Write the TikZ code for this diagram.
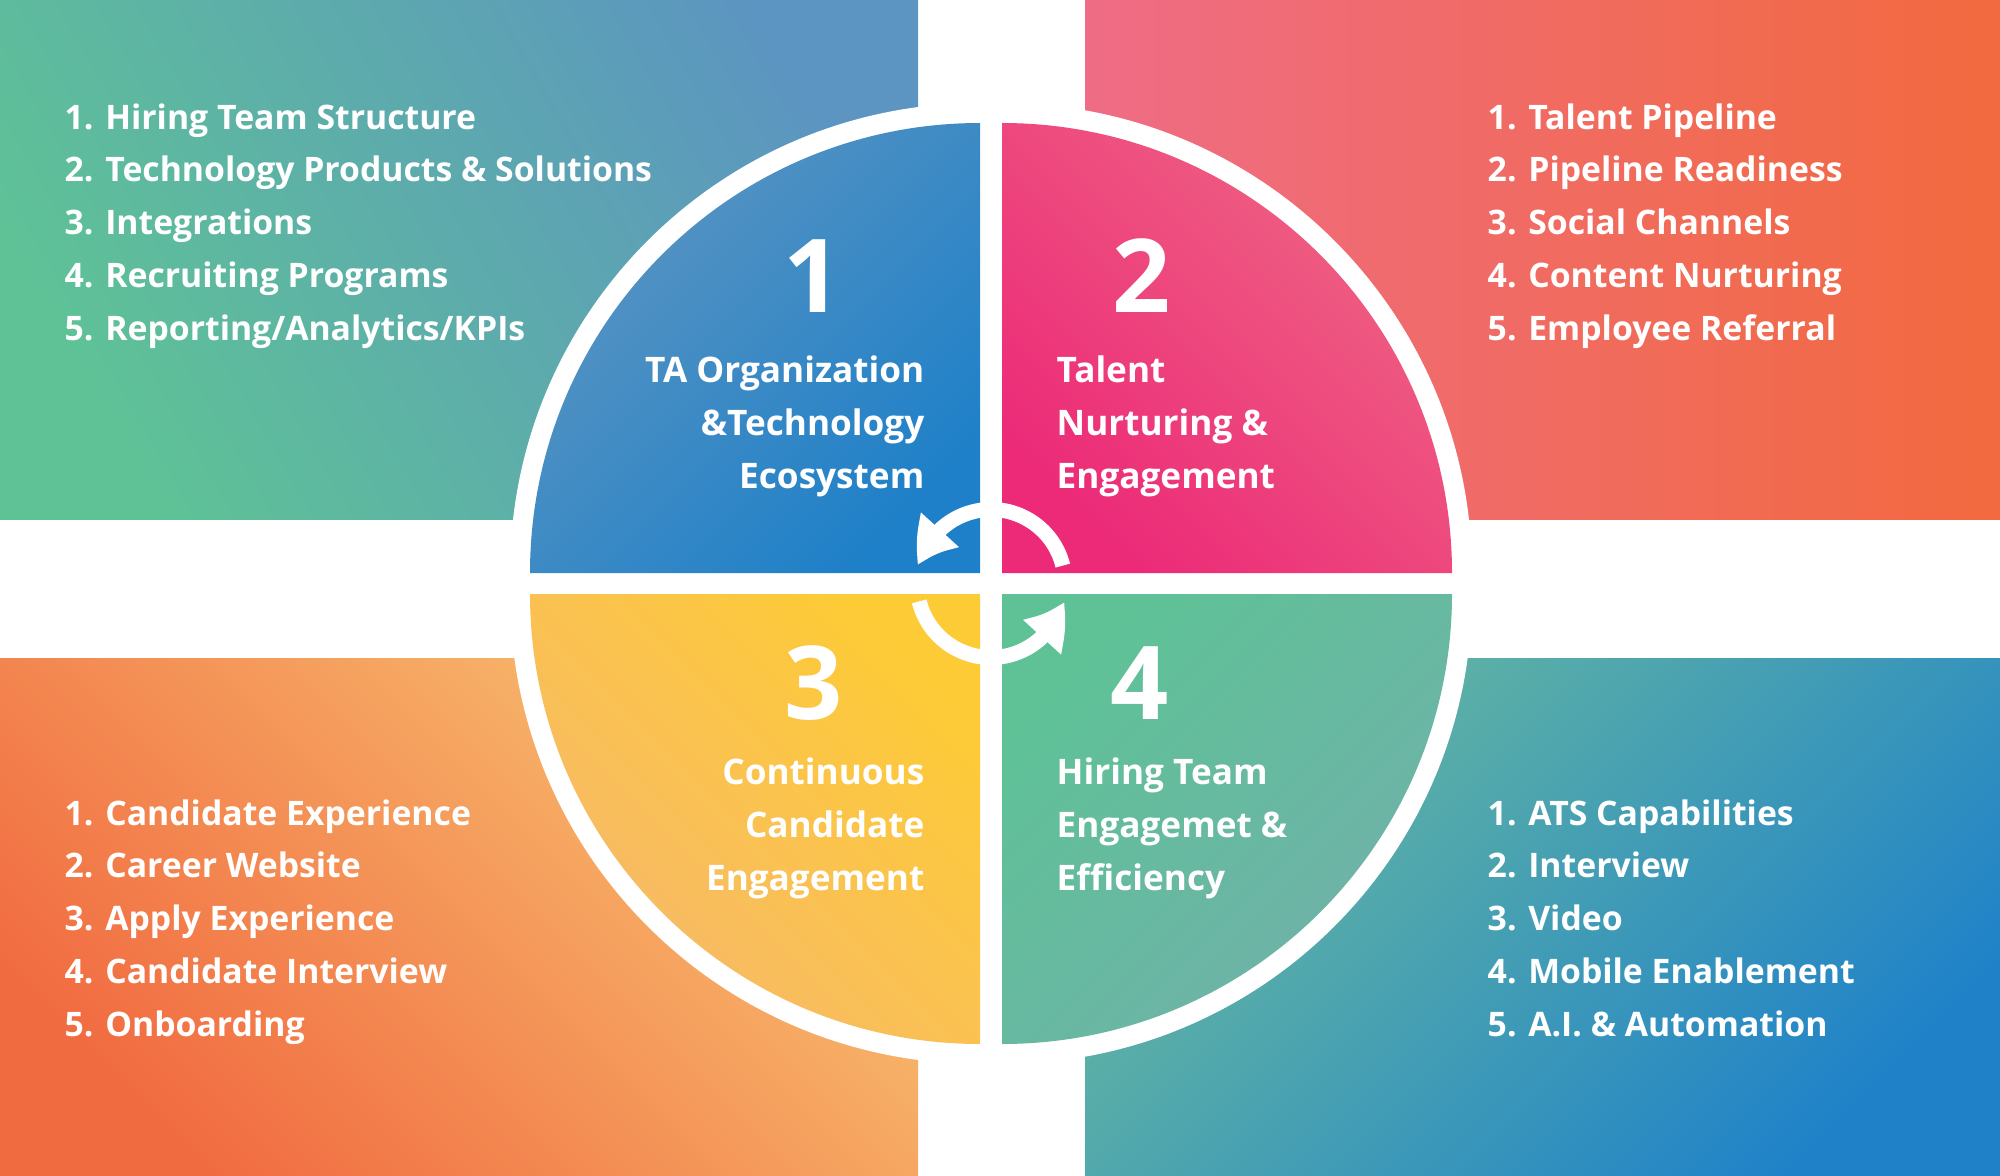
\documentclass[tikz,border=0pt]{standalone}
\usepackage{fontspec}
\setmainfont{Open Sans}
\usepackage{tikz}
\usetikzlibrary{arrows.meta, bending, calc}
\definecolor{leafgreen}{HTML}{5EC296}
\definecolor{steelblue}{HTML}{5C95C1}
\definecolor{deepblue}{HTML}{1E80C8}
\definecolor{hotpink}{HTML}{EC2A78}
\definecolor{lightpink}{HTML}{EF6583}
\definecolor{softpink}{HTML}{EF6C86}
\definecolor{flameorange}{HTML}{F26A3E}
\definecolor{sunyellow}{HTML}{FDCB36}
\definecolor{paleorange}{HTML}{F7B86C}
\definecolor{peach}{HTML}{F8C170}
\definecolor{redorange}{HTML}{F16B41}
\definecolor{tealgreen}{HTML}{71B0AB}
\definecolor{seateal}{HTML}{68B99F}
\definecolor{oceanblue}{HTML}{1F82C9}
\tikzset{
    diagshade/.style n args={3}{
        top color=#1, bottom color=#2, shading angle=#3
    },
    listtext/.style={
        font=\fontsize{9.6}{15}\selectfont\bfseries, text=white,
        align=left, anchor=base west, inner sep=0pt
    },
    titletext/.style={
        font=\fontsize{10}{15}\selectfont\bfseries, text=white,
        inner sep=0pt
    },
    bignum/.style={
        font=\fontsize{29}{30}\selectfont\bfseries, text=white,
        anchor=base, inner sep=0pt
    },
    cyclearrow/.style={
        draw=white, line width=1.5mm,
        -{Triangle[length=4.2mm, width=4.8mm, bend]}
    },
}

\begin{document}
\begin{tikzpicture}[x=0.01cm, y=-0.01cm]
    \useasboundingbox (0,0) rectangle (2000,1176);
    \coordinate (hub) at (991,583.5);

    % Outer panels
    \shade[diagshade={steelblue}{leafgreen}{-60}] (0,0) rectangle (918,519);
    \shade[left color=softpink, right color=flameorange] (1085,0) rectangle (2000,519);
    \shade[diagshade={peach}{redorange}{-45}] (0,658) rectangle (918,1176);
    \shade[diagshade={seateal}{oceanblue}{45}] (1085,658) rectangle (2000,1176);

    % White rings round the wheel
    \fill[white] (980,573) -- ++(-470,0) arc[start angle=180, end angle=270, radius=470] -- cycle;
    \fill[white] (1002,573) -- ++(0,-470) arc[start angle=270, end angle=360, radius=470] -- cycle;
    \fill[white] (1002,594) -- ++(470,0) arc[start angle=0, end angle=90, radius=470] -- cycle;
    \fill[white] (980,594) -- ++(0,470) arc[start angle=90, end angle=180, radius=470] -- cycle;

    % Quadrants
    \shade[diagshade={steelblue}{deepblue}{45}] (980,573) -- ++(-450,0) arc[start angle=180, end angle=270, radius=450] -- cycle;
    \shade[diagshade={lightpink}{hotpink}{-45}] (1002,573) -- ++(0,-450) arc[start angle=270, end angle=360, radius=450] -- cycle;
    \shade[diagshade={leafgreen}{tealgreen}{45}] (1002,594) -- ++(450,0) arc[start angle=0, end angle=90, radius=450] -- cycle;
    \shade[diagshade={sunyellow}{paleorange}{-45}] (980,594) -- ++(0,450) arc[start angle=90, end angle=180, radius=450] -- cycle;

    % Cycle arrows
    \draw[cyclearrow] ($(hub)+(-14:74)$) arc[start angle=-14, end angle=-166, radius=74];
    \draw[cyclearrow] ($(hub)+(166:74)$) arc[start angle=166, end angle=14, radius=74];

    % Numbers and titles
    \node[bignum] (num1) at (813,312) {1};
    \node[bignum] (num2) at (1142,312) {2};
    \node[bignum] (num3) at (814,719) {3};
    \node[bignum] (num4) at (1140,719) {4};

    \node[titletext, align=right, anchor=base east] (title1) at (925,488) {TA Organization\\\&Technology\\Ecosystem};
    \node[titletext, align=left, anchor=base west] (title2) at (1056,488) {Talent\\Nurturing \&\\Engagement};
    \node[titletext, align=right, anchor=base east] (title3) at (925,890) {Continuous\\Candidate\\Engagement};
    \node[titletext, align=left, anchor=base west] (title4) at (1056,890) {Hiring Team\\Engagemet \&\\Efficiency};

    % Lists
    \node[listtext] (list1) at (64,340) {1. Hiring Team Structure\\2. Technology Products \& Solutions\\3. Integrations\\4. Recruiting Programs\\5. Reporting/Analytics/KPIs};
    \node[listtext] (list2) at (1487,340) {1. Talent Pipeline\\2. Pipeline Readiness\\3. Social Channels\\4. Content Nurturing\\5. Employee Referral};
    \node[listtext] (list3) at (64,1036) {1. Candidate Experience\\2. Career Website\\3. Apply Experience\\4. Candidate Interview\\5. Onboarding};
    \node[listtext] (list4) at (1487,1036) {1. ATS Capabilities\\2. Interview\\3. Video\\4. Mobile Enablement\\5. A.I. \& Automation};

\end{tikzpicture}
\end{document}
